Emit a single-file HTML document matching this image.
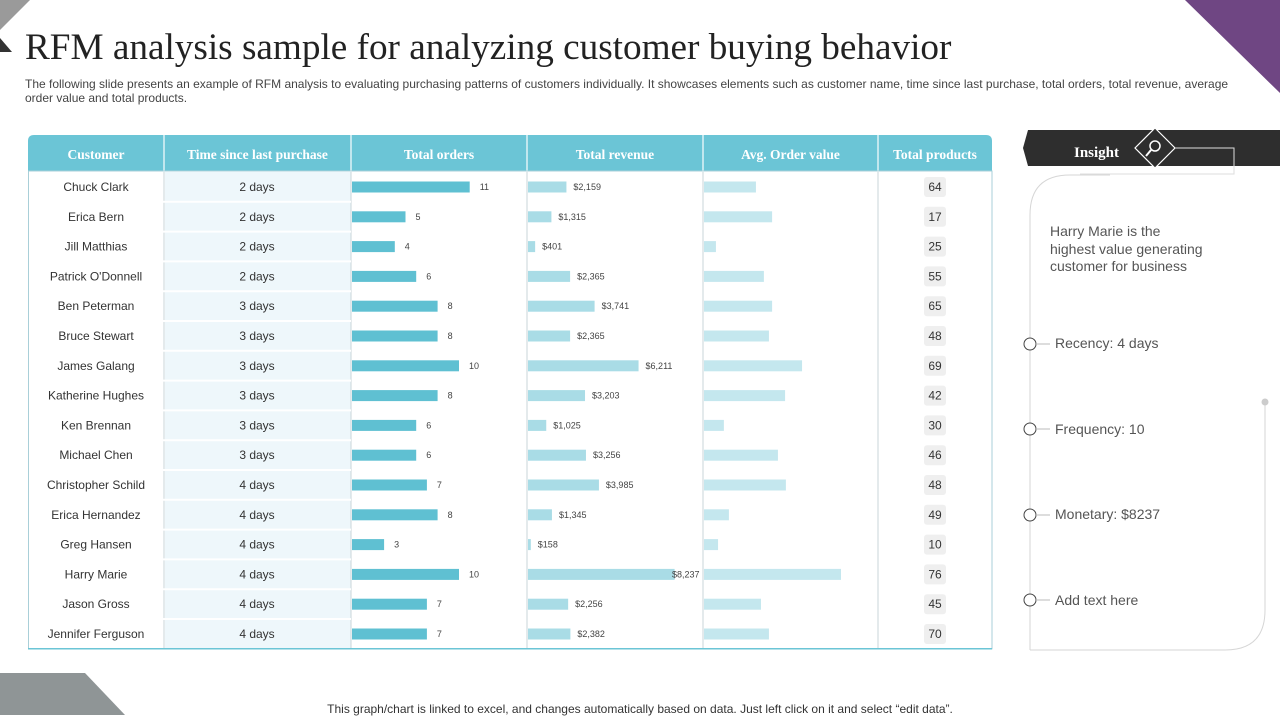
<!DOCTYPE html>
<html><head><meta charset="utf-8"><style>
body{margin:0;width:1280px;height:720px;position:relative;background:#fff;overflow:hidden;font-family:"Liberation Sans",sans-serif}
.abs{position:absolute}
</style></head><body>
<svg class="abs" style="left:0;top:0" width="1280" height="720">
<polygon points="0,0 30,0 0,30" fill="#9a9a9a"/>
<polygon points="0,38 12,52 0,52" fill="#333"/>
<polygon points="1185,0 1280,0 1280,93" fill="#6f4683"/>
<polygon points="0,673 85,673 125,715 0,715" fill="#8f9596"/>
</svg>
<div class="abs" style="left:25px;top:26px;font-family:'Liberation Serif',serif;font-size:37.2px;color:#222">RFM analysis sample for analyzing customer buying behavior</div>
<div class="abs" style="left:25px;top:77px;width:1250px;font-size:12px;line-height:14px;color:#444;white-space:nowrap">The following slide presents an example of RFM analysis to evaluating purchasing patterns of customers individually. It showcases elements such as customer name, time since last purchase, total orders, total revenue, average<br>order value and total products.</div>
<svg class="abs" style="left:0;top:0" width="1280" height="720" id="tbl"></svg>
<div class="abs" style="left:0;width:1280px;top:702px;text-align:center;font-size:12px;color:#333">This graph/chart is linked to excel,  and changes automatically based on data. Just left click on it and select “edit data”.</div>
<script>
const customers=["Chuck Clark","Erica Bern","Jill Matthias","Patrick O'Donnell","Ben Peterman","Bruce Stewart","James Galang","Katherine Hughes","Ken Brennan","Michael Chen","Christopher Schild","Erica Hernandez","Greg Hansen","Harry Marie","Jason Gross","Jennifer Ferguson"];
const days=[2,2,2,2,3,3,3,3,3,3,4,4,4,4,4,4];
const orders=[11,5,4,6,8,8,10,8,6,6,7,8,3,10,7,7];
const revenue=[2159,1315,401,2365,3741,2365,6211,3203,1025,3256,3985,1345,158,8237,2256,2382];
const avgOrder=[196,257,45,226,257,245,370,306,75,279,309,94,53,517,215,245];
const products=[64,17,25,55,65,48,69,42,30,46,48,49,10,76,45,70];
const headers=["Customer","Time since last purchase","Total orders","Total revenue","Avg. Order value","Total products"];
const cols=[28,164,351,527,703,878,992];
const NS="http://www.w3.org/2000/svg";
const svg=document.getElementById('tbl');
function el(t,a,txt){const e=document.createElementNS(NS,t);for(const k in a)e.setAttribute(k,a[k]);if(txt!==undefined)e.textContent=txt;svg.appendChild(e);return e;}
const top0=172,rowH=29.8,n=customers.length,bottom=top0+n*rowH;
const xOrders=v=>v*10.7, xRev=v=>v*0.0178, xAvg=v=>v*0.265;
let bg=el('rect',{x:165,y:top0,width:186,height:n*rowH,fill:'#eef7fb'});


let hd=el('path',{d:`M28,${top0-1} V141 Q28,135 34,135 H986 Q992,135 992,141 V${top0-1} Z`,fill:'#6bc5d6'});


headers.forEach((h,i)=>{const t=el('text',{x:(cols[i]+cols[i+1])/2,y:159,'text-anchor':'middle','font-family':'Liberation Serif,serif','font-weight':'bold','font-size':13.5,fill:'#fff'},h);

});
for(let i=1;i<6;i++){el('line',{x1:cols[i],y1:135,x2:cols[i],y2:171,stroke:'#dff2f6','stroke-width':1.5});
el('line',{x1:cols[i],y1:172,x2:cols[i],y2:bottom,stroke:'#c8d4d8','stroke-width':1});}
el('rect',{x:28.5,y:171,width:963.5,height:bottom-171,fill:'none',stroke:'#a9cfd8','stroke-width':1});
el('line',{x1:28,y1:bottom,x2:992,y2:bottom,stroke:'#6bc5d6','stroke-width':1.5});
const revLabels=[];
for(let r=0;r<n;r++){
 const cy=top0+r*rowH+15;
 if(r>0){el('line',{x1:29,y1:top0+r*rowH,x2:351,y2:top0+r*rowH,stroke:'#fff','stroke-width':2});}
 let t=el('text',{x:96,y:cy+4,'text-anchor':'middle','font-size':12,fill:'#333'},customers[r]);
 
 
 t=el('text',{x:257,y:cy+4,'text-anchor':'middle','font-size':12,fill:'#333'},days[r]+' days');
 
 
 let w=xOrders(orders[r]);
 let b=el('rect',{x:352,y:cy-5.5,width:w,height:11,fill:'#5fc0d2'});
 
 
 el('text',{x:352+w+10,y:cy+3,'font-size':9,fill:'#444'},orders[r]);
 w=xRev(revenue[r]);
 b=el('rect',{x:528,y:cy-5.5,width:w,height:11,fill:'#a9dce6'});
 
 
 revLabels.push([Math.min(528+w+7,672),cy+3,'$'+revenue[r].toLocaleString('en-US')]);
 w=xAvg(avgOrder[r]);
 b=el('rect',{x:704,y:cy-5.5,width:w,height:11,fill:'#c4e7ee'});
 
 
 b=el('rect',{x:924,y:cy-10,width:22,height:20,rx:3,fill:'#efefef'});
 
 
 t=el('text',{x:935,y:cy+4,'text-anchor':'middle','font-size':12,fill:'#333'},products[r]);
 
 
}
revLabels.forEach(l=>{const t=el('text',{x:l[0],y:l[1],'font-size':9,fill:'#444'},l[2]);
 
 });
</script>
<svg class="abs" style="left:0;top:0" width="1280" height="720">
<polygon points="1028,130 1280,130 1280,166 1028,166 1023,148" fill="#2e2e2e"/>
<text x="1074" y="157" font-family="Liberation Serif,serif" font-weight="bold" font-size="15" fill="#fff">Insight</text>
<polygon points="1155,128 1175,148 1155,168 1135,148" fill="#2e2e2e" stroke="#fff" stroke-width="1.2"/>
<circle cx="1155" cy="146" r="5" fill="none" stroke="#fff" stroke-width="1.5"/>
<line x1="1151" y1="150" x2="1146" y2="156" stroke="#fff" stroke-width="2"/>
<polyline points="1175,148 1234,148 1234,174 1080,174" fill="none" stroke="#ddd" stroke-width="1"/>
<path d="M1030,650 V215 Q1030,175 1070,175 H1110" fill="none" stroke="#d6d6d6" stroke-width="1"/>
<path d="M1030,650 H1225 Q1265,650 1265,610 V402" fill="none" stroke="#d6d6d6" stroke-width="1"/>
<circle cx="1265" cy="402" r="3.5" fill="#ccc"/>
<text font-size="14" fill="#555"><tspan x="1050" y="236">Harry Marie is the</tspan><tspan x="1050" y="254">highest value generating</tspan><tspan x="1050" y="271">customer for business</tspan></text>
<g font-size="14" fill="#555">
<circle cx="1030" cy="344" r="6" fill="#fff" stroke="#444"/><line x1="1036" y1="344" x2="1050" y2="344" stroke="#bbb"/><text x="1055" y="348">Recency: 4 days</text>
<circle cx="1030" cy="429" r="6" fill="#fff" stroke="#444"/><line x1="1036" y1="429" x2="1050" y2="429" stroke="#bbb"/><text x="1055" y="434">Frequency: 10</text>
<circle cx="1030" cy="515" r="6" fill="#fff" stroke="#444"/><line x1="1036" y1="515" x2="1050" y2="515" stroke="#bbb"/><text x="1055" y="519">Monetary:  $8237</text>
<circle cx="1030" cy="600" r="6" fill="#fff" stroke="#444"/><line x1="1036" y1="600" x2="1050" y2="600" stroke="#bbb"/><text x="1055" y="605">Add text here</text>
</g>
</svg>
</body></html>
